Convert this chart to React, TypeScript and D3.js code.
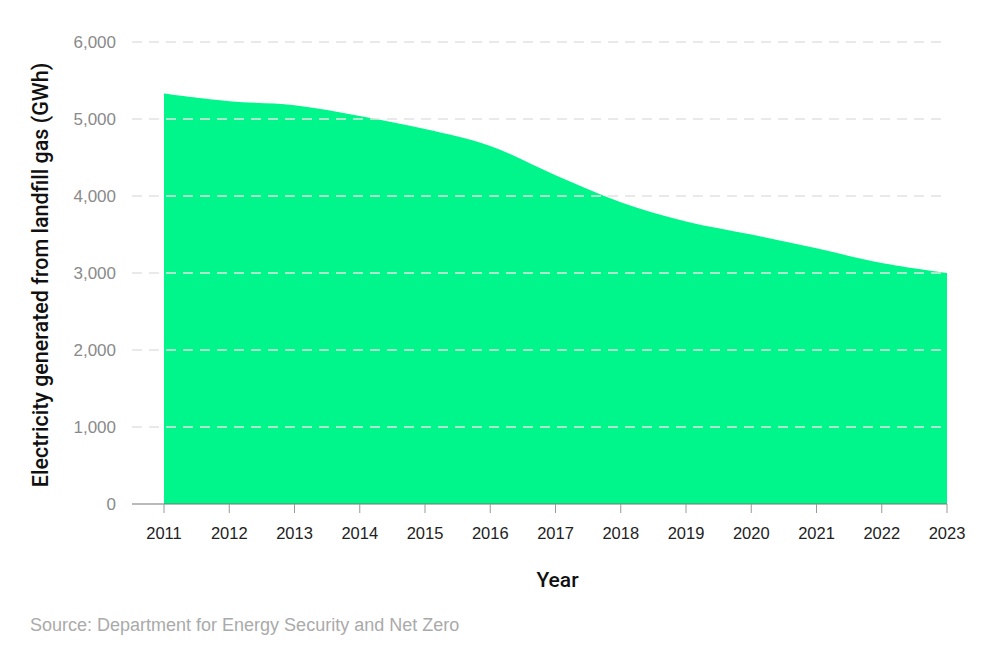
import * as d3 from 'd3';

const YEARS = [2011, 2012, 2013, 2014, 2015, 2016, 2017, 2018, 2019, 2020, 2021, 2022, 2023];
const GWH = [5330, 5230, 5180, 5040, 4870, 4650, 4270, 3920, 3670, 3500, 3320, 3130, 3000];
const Y_TICKS = [0, 1000, 2000, 3000, 4000, 5000, 6000];

const VW = 1000;
const VH = 660;
const LEFT = 132;
const X0 = 164;
const X1 = 947;
const Y_TOP = 42;
const Y_BOT = 504;

const GREEN = '#00f58a';
const FONT = '"Liberation Sans", Arial, sans-serif';
const TITLE_FONT = 'Roboto, "Liberation Sans", sans-serif';

const xScale = d3.scaleLinear().domain([2011, 2023]).range([X0, X1]);
const yScale = d3.scaleLinear().domain([0, 6000]).range([Y_BOT, Y_TOP]);

const data = YEARS.map((year, i) => ({ year, value: GWH[i] }));

const area = d3.area<{ year: number; value: number }>()
  .x(d => xScale(d.year))
  .y0(yScale(0))
  .y1(d => yScale(d.value))
  .curve(d3.curveCatmullRom.alpha(0.5));

const fmt = d3.format(',');

export default function App() {
  return (
    <svg width={VW} height={VH} viewBox={`0 0 ${VW} ${VH}`}
      style={{ display: 'block', position: 'absolute', left: 0, top: 0, background: '#fff' }}>
      <path d={area(data) ?? ''} fill={GREEN} />

      {Y_TICKS.filter(t => t > 0).map(t => (
        <line key={`g${t}`} x1={LEFT} x2={X1} y1={yScale(t)} y2={yScale(t)}
          stroke="#e2e2e2" strokeWidth={1.5} strokeDasharray="10 7" />
      ))}

      {Y_TICKS.map(t => (
        <text key={`yl${t}`} x={116} y={yScale(t)} dy="0.35em" textAnchor="end"
          fontSize={17} fill="#8a8a8a" fontFamily={FONT}>
          {fmt(t)}
        </text>
      ))}

      <line x1={LEFT} x2={X1} y1={Y_BOT} y2={Y_BOT} stroke="#777" strokeWidth={1.2} />

      {YEARS.map(year => (
        <g key={`x${year}`}>
          <line x1={xScale(year)} x2={xScale(year)} y1={Y_BOT} y2={Y_BOT + 9} stroke="#999" strokeWidth={1} />
          <text x={xScale(year)} y={Y_BOT + 29} dy="0.35em" textAnchor="middle"
            fontSize={16.5} fill="#222" fontFamily={FONT}>
            {year}
          </text>
        </g>
      ))}

      <text x={(X0 + X1) / 2 + 2} y={580} dy="0.35em" textAnchor="middle"
        fontSize={21} fontWeight={500} fill="#111" fontFamily={TITLE_FONT}>
        Year
      </text>

      <text transform={`translate(40, ${(Y_TOP + Y_BOT) / 2 + 2}) rotate(-90)`} dy="0.35em"
        textAnchor="middle" fontSize={21.5} fontWeight={500} fill="#111" fontFamily={TITLE_FONT}>
        Electricity generated from landfill gas (GWh)
      </text>

      <text x={30} y={625} dy="0.35em" fontSize={18} fill="#aaa" fontFamily={FONT}>
        Source: Department for Energy Security and Net Zero
      </text>
    </svg>
  );
}
